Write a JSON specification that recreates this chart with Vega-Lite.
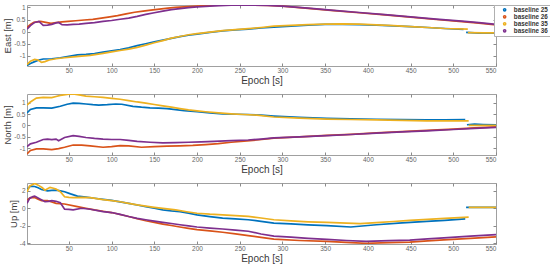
{
"$schema": "https://vega.github.io/schema/vega-lite/v6.json",
"padding": {"left": 2, "top": 3, "right": 0, "bottom": 0},
"spacing": 7,
"config": {
  "font": "Liberation Sans",
  "view": {"stroke": "#a0a0a0", "strokeWidth": 1},
  "axis": {"grid": false, "domain": false, "labelFont": "Liberation Sans", "labelFontSize": 6.5, "labelColor": "#666666", "tickColor": "#8a8a8a", "tickSize": -3, "labelPadding": 4.5, "titleFont": "Liberation Sans", "titleFontWeight": "normal", "titleColor": "#3a3a3a", "titleFontSize": 9.5},
  "axisX": {"titlePadding": 1.5, "titleFontSize": 10},
  "axisY": {"titlePadding": 1, "labelPadding": 5},
  "legend": {"strokeColor": "#b0b0b0", "fillColor": "white", "padding": 1.5, "labelFont": "Liberation Sans", "labelFontSize": 6.3, "labelFontWeight": "bold", "labelColor": "#333333", "symbolType": "circle", "symbolSize": 5, "symbolStrokeWidth": 1.5, "symbolOffset": 6, "rowPadding": 0, "labelOffset": 6, "labelLimit": 200, "clipHeight": 6.6, "title": null}
},
"datasets": {
"east": [
{"baseline":"baseline 25","seg":0,"epoch":1,"value":-1.4},{"baseline":"baseline 25","seg":0,"epoch":5,"value":-1.32},{"baseline":"baseline 25","seg":0,"epoch":10,"value":-1.24},{"baseline":"baseline 25","seg":0,"epoch":15,"value":-1.17},{"baseline":"baseline 25","seg":0,"epoch":20,"value":-1.13},{"baseline":"baseline 25","seg":0,"epoch":30,"value":-1.12},{"baseline":"baseline 25","seg":0,"epoch":40,"value":-1.08},{"baseline":"baseline 25","seg":0,"epoch":50,"value":-1.02},{"baseline":"baseline 25","seg":0,"epoch":60,"value":-0.96},{"baseline":"baseline 25","seg":0,"epoch":70,"value":-0.94},{"baseline":"baseline 25","seg":0,"epoch":80,"value":-0.91},{"baseline":"baseline 25","seg":0,"epoch":90,"value":-0.85},{"baseline":"baseline 25","seg":0,"epoch":100,"value":-0.79},{"baseline":"baseline 25","seg":0,"epoch":110,"value":-0.74},{"baseline":"baseline 25","seg":0,"epoch":120,"value":-0.67},{"baseline":"baseline 25","seg":0,"epoch":130,"value":-0.58},{"baseline":"baseline 25","seg":0,"epoch":140,"value":-0.5},{"baseline":"baseline 25","seg":0,"epoch":150,"value":-0.42},{"baseline":"baseline 25","seg":0,"epoch":160,"value":-0.35},{"baseline":"baseline 25","seg":0,"epoch":170,"value":-0.28},{"baseline":"baseline 25","seg":0,"epoch":180,"value":-0.21},{"baseline":"baseline 25","seg":0,"epoch":190,"value":-0.15},{"baseline":"baseline 25","seg":0,"epoch":200,"value":-0.1},{"baseline":"baseline 25","seg":0,"epoch":215,"value":-0.03},{"baseline":"baseline 25","seg":0,"epoch":230,"value":0.03},{"baseline":"baseline 25","seg":0,"epoch":245,"value":0.07},{"baseline":"baseline 25","seg":0,"epoch":260,"value":0.1},{"baseline":"baseline 25","seg":0,"epoch":275,"value":0.15},{"baseline":"baseline 25","seg":0,"epoch":290,"value":0.19},{"baseline":"baseline 25","seg":0,"epoch":310,"value":0.23},{"baseline":"baseline 25","seg":0,"epoch":330,"value":0.27},{"baseline":"baseline 25","seg":0,"epoch":350,"value":0.3},{"baseline":"baseline 25","seg":0,"epoch":370,"value":0.3},{"baseline":"baseline 25","seg":0,"epoch":390,"value":0.29},{"baseline":"baseline 25","seg":0,"epoch":410,"value":0.27},{"baseline":"baseline 25","seg":0,"epoch":430,"value":0.24},{"baseline":"baseline 25","seg":0,"epoch":450,"value":0.21},{"baseline":"baseline 25","seg":0,"epoch":470,"value":0.17},{"baseline":"baseline 25","seg":0,"epoch":490,"value":0.13},{"baseline":"baseline 25","seg":0,"epoch":512,"value":0.09},
{"baseline":"baseline 25","seg":1,"epoch":515,"value":-0.03},{"baseline":"baseline 25","seg":1,"epoch":530,"value":-0.06},{"baseline":"baseline 25","seg":1,"epoch":550,"value":-0.06},
{"baseline":"baseline 26","seg":0,"epoch":1,"value":0.17},{"baseline":"baseline 26","seg":0,"epoch":5,"value":0.3},{"baseline":"baseline 26","seg":0,"epoch":9,"value":0.38},{"baseline":"baseline 26","seg":0,"epoch":17,"value":0.42},{"baseline":"baseline 26","seg":0,"epoch":23,"value":0.38},{"baseline":"baseline 26","seg":0,"epoch":29,"value":0.34},{"baseline":"baseline 26","seg":0,"epoch":35,"value":0.37},{"baseline":"baseline 26","seg":0,"epoch":42,"value":0.4},{"baseline":"baseline 26","seg":0,"epoch":49,"value":0.42},{"baseline":"baseline 26","seg":0,"epoch":58,"value":0.45},{"baseline":"baseline 26","seg":0,"epoch":68,"value":0.48},{"baseline":"baseline 26","seg":0,"epoch":78,"value":0.51},{"baseline":"baseline 26","seg":0,"epoch":88,"value":0.56},{"baseline":"baseline 26","seg":0,"epoch":98,"value":0.61},{"baseline":"baseline 26","seg":0,"epoch":107,"value":0.66},{"baseline":"baseline 26","seg":0,"epoch":117,"value":0.73},{"baseline":"baseline 26","seg":0,"epoch":127,"value":0.8},{"baseline":"baseline 26","seg":0,"epoch":137,"value":0.85},{"baseline":"baseline 26","seg":0,"epoch":146,"value":0.89},{"baseline":"baseline 26","seg":0,"epoch":156,"value":0.93},{"baseline":"baseline 26","seg":0,"epoch":166,"value":0.97},{"baseline":"baseline 26","seg":0,"epoch":175,"value":1.0},{"baseline":"baseline 26","seg":0,"epoch":185,"value":1.02},{"baseline":"baseline 26","seg":0,"epoch":195,"value":1.04},{"baseline":"baseline 26","seg":0,"epoch":205,"value":1.06},{"baseline":"baseline 26","seg":0,"epoch":225,"value":1.09},{"baseline":"baseline 26","seg":0,"epoch":244,"value":1.11},{"baseline":"baseline 26","seg":0,"epoch":265,"value":1.1},{"baseline":"baseline 26","seg":0,"epoch":283,"value":1.08},{"baseline":"baseline 26","seg":0,"epoch":300,"value":1.05},{"baseline":"baseline 26","seg":0,"epoch":330,"value":0.96},{"baseline":"baseline 26","seg":0,"epoch":360,"value":0.87},{"baseline":"baseline 26","seg":0,"epoch":390,"value":0.78},{"baseline":"baseline 26","seg":0,"epoch":420,"value":0.69},{"baseline":"baseline 26","seg":0,"epoch":450,"value":0.6},{"baseline":"baseline 26","seg":0,"epoch":480,"value":0.5},{"baseline":"baseline 26","seg":0,"epoch":510,"value":0.41},{"baseline":"baseline 26","seg":0,"epoch":530,"value":0.35},{"baseline":"baseline 26","seg":0,"epoch":550,"value":0.28},
{"baseline":"baseline 35","seg":0,"epoch":1,"value":-1.36},{"baseline":"baseline 35","seg":0,"epoch":5,"value":-1.22},{"baseline":"baseline 35","seg":0,"epoch":10,"value":-1.15},{"baseline":"baseline 35","seg":0,"epoch":14,"value":-1.17},{"baseline":"baseline 35","seg":0,"epoch":18,"value":-1.27},{"baseline":"baseline 35","seg":0,"epoch":22,"value":-1.24},{"baseline":"baseline 35","seg":0,"epoch":27,"value":-1.17},{"baseline":"baseline 35","seg":0,"epoch":35,"value":-1.12},{"baseline":"baseline 35","seg":0,"epoch":45,"value":-1.08},{"baseline":"baseline 35","seg":0,"epoch":55,"value":-1.04},{"baseline":"baseline 35","seg":0,"epoch":65,"value":-1.01},{"baseline":"baseline 35","seg":0,"epoch":75,"value":-0.98},{"baseline":"baseline 35","seg":0,"epoch":90,"value":-0.9},{"baseline":"baseline 35","seg":0,"epoch":100,"value":-0.84},{"baseline":"baseline 35","seg":0,"epoch":110,"value":-0.78},{"baseline":"baseline 35","seg":0,"epoch":120,"value":-0.72},{"baseline":"baseline 35","seg":0,"epoch":130,"value":-0.65},{"baseline":"baseline 35","seg":0,"epoch":140,"value":-0.56},{"baseline":"baseline 35","seg":0,"epoch":150,"value":-0.46},{"baseline":"baseline 35","seg":0,"epoch":160,"value":-0.37},{"baseline":"baseline 35","seg":0,"epoch":170,"value":-0.27},{"baseline":"baseline 35","seg":0,"epoch":180,"value":-0.2},{"baseline":"baseline 35","seg":0,"epoch":190,"value":-0.13},{"baseline":"baseline 35","seg":0,"epoch":200,"value":-0.08},{"baseline":"baseline 35","seg":0,"epoch":215,"value":-0.02},{"baseline":"baseline 35","seg":0,"epoch":230,"value":0.04},{"baseline":"baseline 35","seg":0,"epoch":245,"value":0.08},{"baseline":"baseline 35","seg":0,"epoch":260,"value":0.12},{"baseline":"baseline 35","seg":0,"epoch":275,"value":0.17},{"baseline":"baseline 35","seg":0,"epoch":290,"value":0.23},{"baseline":"baseline 35","seg":0,"epoch":310,"value":0.26},{"baseline":"baseline 35","seg":0,"epoch":330,"value":0.29},{"baseline":"baseline 35","seg":0,"epoch":350,"value":0.31},{"baseline":"baseline 35","seg":0,"epoch":370,"value":0.32},{"baseline":"baseline 35","seg":0,"epoch":390,"value":0.31},{"baseline":"baseline 35","seg":0,"epoch":410,"value":0.28},{"baseline":"baseline 35","seg":0,"epoch":430,"value":0.25},{"baseline":"baseline 35","seg":0,"epoch":450,"value":0.21},{"baseline":"baseline 35","seg":0,"epoch":470,"value":0.17},{"baseline":"baseline 35","seg":0,"epoch":490,"value":0.13},{"baseline":"baseline 35","seg":0,"epoch":517,"value":0.1},
{"baseline":"baseline 35","seg":1,"epoch":517,"value":-0.04},{"baseline":"baseline 35","seg":1,"epoch":535,"value":-0.05},{"baseline":"baseline 35","seg":1,"epoch":550,"value":-0.05},
{"baseline":"baseline 36","seg":0,"epoch":1,"value":0.1},{"baseline":"baseline 36","seg":0,"epoch":5,"value":0.25},{"baseline":"baseline 36","seg":0,"epoch":10,"value":0.38},{"baseline":"baseline 36","seg":0,"epoch":15,"value":0.42},{"baseline":"baseline 36","seg":0,"epoch":20,"value":0.26},{"baseline":"baseline 36","seg":0,"epoch":25,"value":0.27},{"baseline":"baseline 36","seg":0,"epoch":30,"value":0.3},{"baseline":"baseline 36","seg":0,"epoch":35,"value":0.36},{"baseline":"baseline 36","seg":0,"epoch":38,"value":0.38},{"baseline":"baseline 36","seg":0,"epoch":42,"value":0.29},{"baseline":"baseline 36","seg":0,"epoch":48,"value":0.28},{"baseline":"baseline 36","seg":0,"epoch":55,"value":0.3},{"baseline":"baseline 36","seg":0,"epoch":62,"value":0.31},{"baseline":"baseline 36","seg":0,"epoch":70,"value":0.34},{"baseline":"baseline 36","seg":0,"epoch":80,"value":0.37},{"baseline":"baseline 36","seg":0,"epoch":90,"value":0.42},{"baseline":"baseline 36","seg":0,"epoch":100,"value":0.46},{"baseline":"baseline 36","seg":0,"epoch":110,"value":0.51},{"baseline":"baseline 36","seg":0,"epoch":120,"value":0.56},{"baseline":"baseline 36","seg":0,"epoch":130,"value":0.63},{"baseline":"baseline 36","seg":0,"epoch":140,"value":0.71},{"baseline":"baseline 36","seg":0,"epoch":150,"value":0.78},{"baseline":"baseline 36","seg":0,"epoch":160,"value":0.85},{"baseline":"baseline 36","seg":0,"epoch":170,"value":0.91},{"baseline":"baseline 36","seg":0,"epoch":180,"value":0.95},{"baseline":"baseline 36","seg":0,"epoch":190,"value":0.99},{"baseline":"baseline 36","seg":0,"epoch":200,"value":1.02},{"baseline":"baseline 36","seg":0,"epoch":220,"value":1.06},{"baseline":"baseline 36","seg":0,"epoch":240,"value":1.09},{"baseline":"baseline 36","seg":0,"epoch":260,"value":1.1},{"baseline":"baseline 36","seg":0,"epoch":283,"value":1.08},{"baseline":"baseline 36","seg":0,"epoch":300,"value":1.05},{"baseline":"baseline 36","seg":0,"epoch":330,"value":0.97},{"baseline":"baseline 36","seg":0,"epoch":360,"value":0.88},{"baseline":"baseline 36","seg":0,"epoch":390,"value":0.79},{"baseline":"baseline 36","seg":0,"epoch":420,"value":0.7},{"baseline":"baseline 36","seg":0,"epoch":450,"value":0.61},{"baseline":"baseline 36","seg":0,"epoch":480,"value":0.52},{"baseline":"baseline 36","seg":0,"epoch":510,"value":0.43},{"baseline":"baseline 36","seg":0,"epoch":530,"value":0.37},{"baseline":"baseline 36","seg":0,"epoch":550,"value":0.3}
],
"north": [
{"baseline":"baseline 25","seg":0,"epoch":1,"value":0.55},{"baseline":"baseline 25","seg":0,"epoch":5,"value":0.7},{"baseline":"baseline 25","seg":0,"epoch":12,"value":0.77},{"baseline":"baseline 25","seg":0,"epoch":20,"value":0.77},{"baseline":"baseline 25","seg":0,"epoch":30,"value":0.76},{"baseline":"baseline 25","seg":0,"epoch":40,"value":0.84},{"baseline":"baseline 25","seg":0,"epoch":48,"value":0.93},{"baseline":"baseline 25","seg":0,"epoch":55,"value":0.98},{"baseline":"baseline 25","seg":0,"epoch":62,"value":0.97},{"baseline":"baseline 25","seg":0,"epoch":70,"value":0.94},{"baseline":"baseline 25","seg":0,"epoch":78,"value":0.91},{"baseline":"baseline 25","seg":0,"epoch":85,"value":0.89},{"baseline":"baseline 25","seg":0,"epoch":95,"value":0.91},{"baseline":"baseline 25","seg":0,"epoch":105,"value":0.94},{"baseline":"baseline 25","seg":0,"epoch":112,"value":0.93},{"baseline":"baseline 25","seg":0,"epoch":125,"value":0.84},{"baseline":"baseline 25","seg":0,"epoch":135,"value":0.8},{"baseline":"baseline 25","seg":0,"epoch":145,"value":0.77},{"baseline":"baseline 25","seg":0,"epoch":155,"value":0.76},{"baseline":"baseline 25","seg":0,"epoch":165,"value":0.74},{"baseline":"baseline 25","seg":0,"epoch":175,"value":0.69},{"baseline":"baseline 25","seg":0,"epoch":185,"value":0.65},{"baseline":"baseline 25","seg":0,"epoch":200,"value":0.6},{"baseline":"baseline 25","seg":0,"epoch":215,"value":0.55},{"baseline":"baseline 25","seg":0,"epoch":230,"value":0.51},{"baseline":"baseline 25","seg":0,"epoch":245,"value":0.49},{"baseline":"baseline 25","seg":0,"epoch":260,"value":0.48},{"baseline":"baseline 25","seg":0,"epoch":275,"value":0.45},{"baseline":"baseline 25","seg":0,"epoch":290,"value":0.41},{"baseline":"baseline 25","seg":0,"epoch":320,"value":0.35},{"baseline":"baseline 25","seg":0,"epoch":352,"value":0.31},{"baseline":"baseline 25","seg":0,"epoch":380,"value":0.29},{"baseline":"baseline 25","seg":0,"epoch":410,"value":0.27},{"baseline":"baseline 25","seg":0,"epoch":440,"value":0.25},{"baseline":"baseline 25","seg":0,"epoch":469,"value":0.24},{"baseline":"baseline 25","seg":0,"epoch":490,"value":0.24},{"baseline":"baseline 25","seg":0,"epoch":514,"value":0.25},
{"baseline":"baseline 25","seg":1,"epoch":516,"value":0.03},{"baseline":"baseline 25","seg":1,"epoch":525,"value":0.06},{"baseline":"baseline 25","seg":1,"epoch":535,"value":0.04},{"baseline":"baseline 25","seg":1,"epoch":550,"value":0.02},
{"baseline":"baseline 26","seg":0,"epoch":1,"value":-1.25},{"baseline":"baseline 26","seg":0,"epoch":5,"value":-1.1},{"baseline":"baseline 26","seg":0,"epoch":12,"value":-1.03},{"baseline":"baseline 26","seg":0,"epoch":20,"value":-1.03},{"baseline":"baseline 26","seg":0,"epoch":30,"value":-1.06},{"baseline":"baseline 26","seg":0,"epoch":38,"value":-1.02},{"baseline":"baseline 26","seg":0,"epoch":45,"value":-0.96},{"baseline":"baseline 26","seg":0,"epoch":55,"value":-0.86},{"baseline":"baseline 26","seg":0,"epoch":65,"value":-0.87},{"baseline":"baseline 26","seg":0,"epoch":75,"value":-0.9},{"baseline":"baseline 26","seg":0,"epoch":90,"value":-0.96},{"baseline":"baseline 26","seg":0,"epoch":100,"value":-0.93},{"baseline":"baseline 26","seg":0,"epoch":110,"value":-0.89},{"baseline":"baseline 26","seg":0,"epoch":120,"value":-0.9},{"baseline":"baseline 26","seg":0,"epoch":135,"value":-0.96},{"baseline":"baseline 26","seg":0,"epoch":150,"value":-0.93},{"baseline":"baseline 26","seg":0,"epoch":165,"value":-0.91},{"baseline":"baseline 26","seg":0,"epoch":180,"value":-0.9},{"baseline":"baseline 26","seg":0,"epoch":195,"value":-0.88},{"baseline":"baseline 26","seg":0,"epoch":210,"value":-0.84},{"baseline":"baseline 26","seg":0,"epoch":225,"value":-0.8},{"baseline":"baseline 26","seg":0,"epoch":240,"value":-0.74},{"baseline":"baseline 26","seg":0,"epoch":255,"value":-0.69},{"baseline":"baseline 26","seg":0,"epoch":270,"value":-0.64},{"baseline":"baseline 26","seg":0,"epoch":290,"value":-0.56},{"baseline":"baseline 26","seg":0,"epoch":320,"value":-0.5},{"baseline":"baseline 26","seg":0,"epoch":352,"value":-0.44},{"baseline":"baseline 26","seg":0,"epoch":380,"value":-0.39},{"baseline":"baseline 26","seg":0,"epoch":410,"value":-0.33},{"baseline":"baseline 26","seg":0,"epoch":440,"value":-0.27},{"baseline":"baseline 26","seg":0,"epoch":469,"value":-0.22},{"baseline":"baseline 26","seg":0,"epoch":500,"value":-0.16},{"baseline":"baseline 26","seg":0,"epoch":525,"value":-0.11},{"baseline":"baseline 26","seg":0,"epoch":550,"value":-0.06},
{"baseline":"baseline 35","seg":0,"epoch":1,"value":0.89},{"baseline":"baseline 35","seg":0,"epoch":5,"value":1.03},{"baseline":"baseline 35","seg":0,"epoch":12,"value":1.2},{"baseline":"baseline 35","seg":0,"epoch":20,"value":1.23},{"baseline":"baseline 35","seg":0,"epoch":30,"value":1.22},{"baseline":"baseline 35","seg":0,"epoch":35,"value":1.27},{"baseline":"baseline 35","seg":0,"epoch":40,"value":1.32},{"baseline":"baseline 35","seg":0,"epoch":50,"value":1.37},{"baseline":"baseline 35","seg":0,"epoch":55,"value":1.38},{"baseline":"baseline 35","seg":0,"epoch":62,"value":1.34},{"baseline":"baseline 35","seg":0,"epoch":70,"value":1.29},{"baseline":"baseline 35","seg":0,"epoch":80,"value":1.26},{"baseline":"baseline 35","seg":0,"epoch":90,"value":1.23},{"baseline":"baseline 35","seg":0,"epoch":100,"value":1.19},{"baseline":"baseline 35","seg":0,"epoch":110,"value":1.15},{"baseline":"baseline 35","seg":0,"epoch":120,"value":1.09},{"baseline":"baseline 35","seg":0,"epoch":130,"value":1.03},{"baseline":"baseline 35","seg":0,"epoch":140,"value":0.98},{"baseline":"baseline 35","seg":0,"epoch":150,"value":0.92},{"baseline":"baseline 35","seg":0,"epoch":160,"value":0.86},{"baseline":"baseline 35","seg":0,"epoch":170,"value":0.8},{"baseline":"baseline 35","seg":0,"epoch":180,"value":0.74},{"baseline":"baseline 35","seg":0,"epoch":190,"value":0.68},{"baseline":"baseline 35","seg":0,"epoch":200,"value":0.64},{"baseline":"baseline 35","seg":0,"epoch":210,"value":0.6},{"baseline":"baseline 35","seg":0,"epoch":225,"value":0.55},{"baseline":"baseline 35","seg":0,"epoch":240,"value":0.51},{"baseline":"baseline 35","seg":0,"epoch":255,"value":0.48},{"baseline":"baseline 35","seg":0,"epoch":270,"value":0.45},{"baseline":"baseline 35","seg":0,"epoch":290,"value":0.37},{"baseline":"baseline 35","seg":0,"epoch":320,"value":0.32},{"baseline":"baseline 35","seg":0,"epoch":352,"value":0.28},{"baseline":"baseline 35","seg":0,"epoch":380,"value":0.26},{"baseline":"baseline 35","seg":0,"epoch":410,"value":0.24},{"baseline":"baseline 35","seg":0,"epoch":440,"value":0.22},{"baseline":"baseline 35","seg":0,"epoch":469,"value":0.2},{"baseline":"baseline 35","seg":0,"epoch":490,"value":0.2},{"baseline":"baseline 35","seg":0,"epoch":518,"value":0.2},
{"baseline":"baseline 35","seg":1,"epoch":518,"value":0.0},{"baseline":"baseline 35","seg":1,"epoch":535,"value":0.0},{"baseline":"baseline 35","seg":1,"epoch":550,"value":0.0},
{"baseline":"baseline 36","seg":0,"epoch":1,"value":-0.93},{"baseline":"baseline 36","seg":0,"epoch":5,"value":-0.81},{"baseline":"baseline 36","seg":0,"epoch":12,"value":-0.74},{"baseline":"baseline 36","seg":0,"epoch":20,"value":-0.62},{"baseline":"baseline 36","seg":0,"epoch":25,"value":-0.6},{"baseline":"baseline 36","seg":0,"epoch":30,"value":-0.62},{"baseline":"baseline 36","seg":0,"epoch":35,"value":-0.6},{"baseline":"baseline 36","seg":0,"epoch":38,"value":-0.67},{"baseline":"baseline 36","seg":0,"epoch":45,"value":-0.53},{"baseline":"baseline 36","seg":0,"epoch":55,"value":-0.45},{"baseline":"baseline 36","seg":0,"epoch":62,"value":-0.48},{"baseline":"baseline 36","seg":0,"epoch":70,"value":-0.53},{"baseline":"baseline 36","seg":0,"epoch":80,"value":-0.57},{"baseline":"baseline 36","seg":0,"epoch":90,"value":-0.6},{"baseline":"baseline 36","seg":0,"epoch":100,"value":-0.62},{"baseline":"baseline 36","seg":0,"epoch":110,"value":-0.62},{"baseline":"baseline 36","seg":0,"epoch":120,"value":-0.66},{"baseline":"baseline 36","seg":0,"epoch":130,"value":-0.7},{"baseline":"baseline 36","seg":0,"epoch":145,"value":-0.74},{"baseline":"baseline 36","seg":0,"epoch":160,"value":-0.77},{"baseline":"baseline 36","seg":0,"epoch":175,"value":-0.76},{"baseline":"baseline 36","seg":0,"epoch":190,"value":-0.74},{"baseline":"baseline 36","seg":0,"epoch":205,"value":-0.72},{"baseline":"baseline 36","seg":0,"epoch":220,"value":-0.7},{"baseline":"baseline 36","seg":0,"epoch":240,"value":-0.67},{"baseline":"baseline 36","seg":0,"epoch":260,"value":-0.64},{"baseline":"baseline 36","seg":0,"epoch":275,"value":-0.6},{"baseline":"baseline 36","seg":0,"epoch":290,"value":-0.55},{"baseline":"baseline 36","seg":0,"epoch":320,"value":-0.5},{"baseline":"baseline 36","seg":0,"epoch":352,"value":-0.45},{"baseline":"baseline 36","seg":0,"epoch":380,"value":-0.4},{"baseline":"baseline 36","seg":0,"epoch":410,"value":-0.34},{"baseline":"baseline 36","seg":0,"epoch":440,"value":-0.28},{"baseline":"baseline 36","seg":0,"epoch":469,"value":-0.24},{"baseline":"baseline 36","seg":0,"epoch":500,"value":-0.18},{"baseline":"baseline 36","seg":0,"epoch":525,"value":-0.13},{"baseline":"baseline 36","seg":0,"epoch":550,"value":-0.09}
],
"up": [
{"baseline":"baseline 25","seg":0,"epoch":1,"value":2.15},{"baseline":"baseline 25","seg":0,"epoch":5,"value":2.53},{"baseline":"baseline 25","seg":0,"epoch":10,"value":2.5},{"baseline":"baseline 25","seg":0,"epoch":14,"value":2.35},{"baseline":"baseline 25","seg":0,"epoch":18,"value":2.15},{"baseline":"baseline 25","seg":0,"epoch":25,"value":2.0},{"baseline":"baseline 25","seg":0,"epoch":30,"value":2.05},{"baseline":"baseline 25","seg":0,"epoch":35,"value":2.08},{"baseline":"baseline 25","seg":0,"epoch":40,"value":2.0},{"baseline":"baseline 25","seg":0,"epoch":45,"value":1.9},{"baseline":"baseline 25","seg":0,"epoch":52,"value":1.65},{"baseline":"baseline 25","seg":0,"epoch":60,"value":1.4},{"baseline":"baseline 25","seg":0,"epoch":70,"value":1.28},{"baseline":"baseline 25","seg":0,"epoch":80,"value":1.15},{"baseline":"baseline 25","seg":0,"epoch":90,"value":1.03},{"baseline":"baseline 25","seg":0,"epoch":100,"value":0.9},{"baseline":"baseline 25","seg":0,"epoch":110,"value":0.74},{"baseline":"baseline 25","seg":0,"epoch":120,"value":0.57},{"baseline":"baseline 25","seg":0,"epoch":130,"value":0.38},{"baseline":"baseline 25","seg":0,"epoch":140,"value":0.19},{"baseline":"baseline 25","seg":0,"epoch":150,"value":0.0},{"baseline":"baseline 25","seg":0,"epoch":160,"value":-0.19},{"baseline":"baseline 25","seg":0,"epoch":170,"value":-0.3},{"baseline":"baseline 25","seg":0,"epoch":180,"value":-0.38},{"baseline":"baseline 25","seg":0,"epoch":190,"value":-0.55},{"baseline":"baseline 25","seg":0,"epoch":200,"value":-0.75},{"baseline":"baseline 25","seg":0,"epoch":215,"value":-0.95},{"baseline":"baseline 25","seg":0,"epoch":230,"value":-1.13},{"baseline":"baseline 25","seg":0,"epoch":245,"value":-1.22},{"baseline":"baseline 25","seg":0,"epoch":260,"value":-1.32},{"baseline":"baseline 25","seg":0,"epoch":275,"value":-1.5},{"baseline":"baseline 25","seg":0,"epoch":290,"value":-1.7},{"baseline":"baseline 25","seg":0,"epoch":310,"value":-1.8},{"baseline":"baseline 25","seg":0,"epoch":330,"value":-1.9},{"baseline":"baseline 25","seg":0,"epoch":352,"value":-2.0},{"baseline":"baseline 25","seg":0,"epoch":380,"value":-2.15},{"baseline":"baseline 25","seg":0,"epoch":410,"value":-1.89},{"baseline":"baseline 25","seg":0,"epoch":440,"value":-1.68},{"baseline":"baseline 25","seg":0,"epoch":469,"value":-1.51},{"baseline":"baseline 25","seg":0,"epoch":490,"value":-1.38},{"baseline":"baseline 25","seg":0,"epoch":514,"value":-1.21},
{"baseline":"baseline 25","seg":1,"epoch":515,"value":0.11},{"baseline":"baseline 25","seg":1,"epoch":530,"value":0.1},{"baseline":"baseline 25","seg":1,"epoch":550,"value":0.1},
{"baseline":"baseline 26","seg":0,"epoch":1,"value":0.94},{"baseline":"baseline 26","seg":0,"epoch":5,"value":1.23},{"baseline":"baseline 26","seg":0,"epoch":10,"value":1.23},{"baseline":"baseline 26","seg":0,"epoch":14,"value":1.05},{"baseline":"baseline 26","seg":0,"epoch":18,"value":0.87},{"baseline":"baseline 26","seg":0,"epoch":25,"value":0.87},{"baseline":"baseline 26","seg":0,"epoch":30,"value":0.72},{"baseline":"baseline 26","seg":0,"epoch":35,"value":0.57},{"baseline":"baseline 26","seg":0,"epoch":45,"value":0.49},{"baseline":"baseline 26","seg":0,"epoch":60,"value":0.19},{"baseline":"baseline 26","seg":0,"epoch":70,"value":0.0},{"baseline":"baseline 26","seg":0,"epoch":80,"value":-0.19},{"baseline":"baseline 26","seg":0,"epoch":90,"value":-0.34},{"baseline":"baseline 26","seg":0,"epoch":100,"value":-0.49},{"baseline":"baseline 26","seg":0,"epoch":110,"value":-0.72},{"baseline":"baseline 26","seg":0,"epoch":120,"value":-0.94},{"baseline":"baseline 26","seg":0,"epoch":130,"value":-1.2},{"baseline":"baseline 26","seg":0,"epoch":140,"value":-1.43},{"baseline":"baseline 26","seg":0,"epoch":150,"value":-1.62},{"baseline":"baseline 26","seg":0,"epoch":160,"value":-1.81},{"baseline":"baseline 26","seg":0,"epoch":170,"value":-1.98},{"baseline":"baseline 26","seg":0,"epoch":180,"value":-2.15},{"baseline":"baseline 26","seg":0,"epoch":190,"value":-2.3},{"baseline":"baseline 26","seg":0,"epoch":200,"value":-2.45},{"baseline":"baseline 26","seg":0,"epoch":215,"value":-2.6},{"baseline":"baseline 26","seg":0,"epoch":230,"value":-2.75},{"baseline":"baseline 26","seg":0,"epoch":245,"value":-2.94},{"baseline":"baseline 26","seg":0,"epoch":260,"value":-3.13},{"baseline":"baseline 26","seg":0,"epoch":275,"value":-3.35},{"baseline":"baseline 26","seg":0,"epoch":290,"value":-3.55},{"baseline":"baseline 26","seg":0,"epoch":320,"value":-3.7},{"baseline":"baseline 26","seg":0,"epoch":352,"value":-3.81},{"baseline":"baseline 26","seg":0,"epoch":380,"value":-3.95},{"baseline":"baseline 26","seg":0,"epoch":398,"value":-4.02},{"baseline":"baseline 26","seg":0,"epoch":425,"value":-3.95},{"baseline":"baseline 26","seg":0,"epoch":449,"value":-3.89},{"baseline":"baseline 26","seg":0,"epoch":470,"value":-3.75},{"baseline":"baseline 26","seg":0,"epoch":489,"value":-3.62},{"baseline":"baseline 26","seg":0,"epoch":520,"value":-3.45},{"baseline":"baseline 26","seg":0,"epoch":550,"value":-3.28},
{"baseline":"baseline 35","seg":0,"epoch":1,"value":1.89},{"baseline":"baseline 35","seg":0,"epoch":4,"value":2.53},{"baseline":"baseline 35","seg":0,"epoch":10,"value":2.85},{"baseline":"baseline 35","seg":0,"epoch":15,"value":2.6},{"baseline":"baseline 35","seg":0,"epoch":19,"value":2.35},{"baseline":"baseline 35","seg":0,"epoch":22,"value":2.08},{"baseline":"baseline 35","seg":0,"epoch":25,"value":2.25},{"baseline":"baseline 35","seg":0,"epoch":28,"value":2.4},{"baseline":"baseline 35","seg":0,"epoch":32,"value":2.3},{"baseline":"baseline 35","seg":0,"epoch":35,"value":2.2},{"baseline":"baseline 35","seg":0,"epoch":40,"value":1.9},{"baseline":"baseline 35","seg":0,"epoch":45,"value":1.32},{"baseline":"baseline 35","seg":0,"epoch":50,"value":1.25},{"baseline":"baseline 35","seg":0,"epoch":55,"value":1.23},{"baseline":"baseline 35","seg":0,"epoch":65,"value":1.25},{"baseline":"baseline 35","seg":0,"epoch":75,"value":1.23},{"baseline":"baseline 35","seg":0,"epoch":90,"value":1.0},{"baseline":"baseline 35","seg":0,"epoch":100,"value":0.88},{"baseline":"baseline 35","seg":0,"epoch":110,"value":0.75},{"baseline":"baseline 35","seg":0,"epoch":120,"value":0.56},{"baseline":"baseline 35","seg":0,"epoch":130,"value":0.38},{"baseline":"baseline 35","seg":0,"epoch":140,"value":0.25},{"baseline":"baseline 35","seg":0,"epoch":150,"value":0.11},{"baseline":"baseline 35","seg":0,"epoch":160,"value":-0.01},{"baseline":"baseline 35","seg":0,"epoch":175,"value":-0.19},{"baseline":"baseline 35","seg":0,"epoch":188,"value":-0.4},{"baseline":"baseline 35","seg":0,"epoch":200,"value":-0.57},{"baseline":"baseline 35","seg":0,"epoch":215,"value":-0.68},{"baseline":"baseline 35","seg":0,"epoch":230,"value":-0.75},{"baseline":"baseline 35","seg":0,"epoch":245,"value":-0.85},{"baseline":"baseline 35","seg":0,"epoch":260,"value":-0.94},{"baseline":"baseline 35","seg":0,"epoch":275,"value":-1.12},{"baseline":"baseline 35","seg":0,"epoch":290,"value":-1.32},{"baseline":"baseline 35","seg":0,"epoch":310,"value":-1.45},{"baseline":"baseline 35","seg":0,"epoch":330,"value":-1.55},{"baseline":"baseline 35","seg":0,"epoch":352,"value":-1.62},{"baseline":"baseline 35","seg":0,"epoch":375,"value":-1.7},{"baseline":"baseline 35","seg":0,"epoch":391,"value":-1.77},{"baseline":"baseline 35","seg":0,"epoch":410,"value":-1.65},{"baseline":"baseline 35","seg":0,"epoch":430,"value":-1.52},{"baseline":"baseline 35","seg":0,"epoch":449,"value":-1.4},{"baseline":"baseline 35","seg":0,"epoch":470,"value":-1.28},{"baseline":"baseline 35","seg":0,"epoch":490,"value":-1.16},{"baseline":"baseline 35","seg":0,"epoch":518,"value":-1.02},
{"baseline":"baseline 35","seg":1,"epoch":518,"value":0.11},{"baseline":"baseline 35","seg":1,"epoch":535,"value":0.1},{"baseline":"baseline 35","seg":1,"epoch":550,"value":0.11},
{"baseline":"baseline 36","seg":0,"epoch":1,"value":0.57},{"baseline":"baseline 36","seg":0,"epoch":4,"value":1.13},{"baseline":"baseline 36","seg":0,"epoch":8,"value":1.35},{"baseline":"baseline 36","seg":0,"epoch":10,"value":1.4},{"baseline":"baseline 36","seg":0,"epoch":15,"value":1.13},{"baseline":"baseline 36","seg":0,"epoch":22,"value":0.75},{"baseline":"baseline 36","seg":0,"epoch":26,"value":0.8},{"baseline":"baseline 36","seg":0,"epoch":30,"value":0.87},{"baseline":"baseline 36","seg":0,"epoch":35,"value":0.8},{"baseline":"baseline 36","seg":0,"epoch":40,"value":0.64},{"baseline":"baseline 36","seg":0,"epoch":45,"value":-0.11},{"baseline":"baseline 36","seg":0,"epoch":50,"value":-0.12},{"baseline":"baseline 36","seg":0,"epoch":55,"value":-0.19},{"baseline":"baseline 36","seg":0,"epoch":65,"value":0.0},{"baseline":"baseline 36","seg":0,"epoch":75,"value":-0.11},{"baseline":"baseline 36","seg":0,"epoch":90,"value":-0.38},{"baseline":"baseline 36","seg":0,"epoch":100,"value":-0.49},{"baseline":"baseline 36","seg":0,"epoch":110,"value":-0.7},{"baseline":"baseline 36","seg":0,"epoch":120,"value":-0.94},{"baseline":"baseline 36","seg":0,"epoch":130,"value":-1.15},{"baseline":"baseline 36","seg":0,"epoch":140,"value":-1.32},{"baseline":"baseline 36","seg":0,"epoch":150,"value":-1.48},{"baseline":"baseline 36","seg":0,"epoch":160,"value":-1.62},{"baseline":"baseline 36","seg":0,"epoch":170,"value":-1.75},{"baseline":"baseline 36","seg":0,"epoch":180,"value":-1.89},{"baseline":"baseline 36","seg":0,"epoch":190,"value":-2.02},{"baseline":"baseline 36","seg":0,"epoch":200,"value":-2.15},{"baseline":"baseline 36","seg":0,"epoch":215,"value":-2.27},{"baseline":"baseline 36","seg":0,"epoch":230,"value":-2.38},{"baseline":"baseline 36","seg":0,"epoch":245,"value":-2.5},{"baseline":"baseline 36","seg":0,"epoch":260,"value":-2.64},{"baseline":"baseline 36","seg":0,"epoch":275,"value":-2.95},{"baseline":"baseline 36","seg":0,"epoch":290,"value":-3.2},{"baseline":"baseline 36","seg":0,"epoch":310,"value":-3.3},{"baseline":"baseline 36","seg":0,"epoch":330,"value":-3.45},{"baseline":"baseline 36","seg":0,"epoch":352,"value":-3.58},{"baseline":"baseline 36","seg":0,"epoch":375,"value":-3.7},{"baseline":"baseline 36","seg":0,"epoch":398,"value":-3.81},{"baseline":"baseline 36","seg":0,"epoch":425,"value":-3.72},{"baseline":"baseline 36","seg":0,"epoch":449,"value":-3.66},{"baseline":"baseline 36","seg":0,"epoch":470,"value":-3.52},{"baseline":"baseline 36","seg":0,"epoch":489,"value":-3.4},{"baseline":"baseline 36","seg":0,"epoch":520,"value":-3.2},{"baseline":"baseline 36","seg":0,"epoch":550,"value":-3.02}
]
},
"vconcat": [
{
 "width": 469, "height": 61,
 "data": {"name": "east"},
 "layer": [
  {
   "mark": {"type": "line", "strokeWidth": 1.7, "clip": true},
   "encoding": {
    "x": {"field": "epoch", "type": "quantitative", "scale": {"domain": [1, 550], "nice": false, "zero": false}, "axis": {"values": [50,100,150,200,250,300,350,400,450,500,550], "title": "Epoch [s]"}},
    "y": {"field": "value", "type": "quantitative", "scale": {"domain": [-1.42, 1.1], "nice": false, "zero": false}, "axis": {"values": [-1,-0.5,0,0.5,1], "title": "East [m]", "labelExpr": "datum.value < 0 ? '-' + format(-datum.value, '~g') : format(datum.value, '~g')"}},
    "color": {"field": "baseline", "type": "nominal", "scale": {"domain": ["baseline 25","baseline 26","baseline 35","baseline 36"], "range": ["#0072BD","#D95319","#EDB120","#7E2F8E"]}, "legend": {"orient": "none", "legendX": 467, "legendY": 0, "symbolSize": 5, "symbolStrokeWidth": 1.5, "clipHeight": 6.6, "rowPadding": 0, "labelOffset": 6, "symbolOffset": 6, "padding": 1.5, "labelFontSize": 6.3}},
    "detail": {"field": "seg"}
   }
  },
  {
   "mark": {"type": "line", "opacity": 0},
   "encoding": {
    "x": {"field": "epoch", "type": "quantitative", "scale": {"domain": [1, 550], "nice": false, "zero": false}, "axis": {"orient": "top", "labels": false, "title": null, "values": [50,100,150,200,250,300,350,400,450,500,550]}},
    "y": {"field": "value", "type": "quantitative", "scale": {"domain": [-1.42, 1.1], "nice": false, "zero": false}, "axis": {"orient": "right", "labels": false, "title": null, "values": [-1,-0.5,0,0.5,1]}},
    "detail": {"field": "baseline"}
   }
  }
 ],
 "resolve": {"axis": {"x": "independent", "y": "independent"}}
},
{
 "width": 469, "height": 61,
 "data": {"name": "north"},
 "layer": [
  {
   "mark": {"type": "line", "strokeWidth": 1.7, "clip": true},
   "encoding": {
    "x": {"field": "epoch", "type": "quantitative", "scale": {"domain": [1, 550], "nice": false, "zero": false}, "axis": {"values": [50,100,150,200,250,300,350,400,450,500,550], "title": "Epoch [s]"}},
    "y": {"field": "value", "type": "quantitative", "scale": {"domain": [-1.3, 1.38], "nice": false, "zero": false}, "axis": {"values": [-1,-0.5,0,0.5,1], "title": "North [m]", "labelExpr": "datum.value < 0 ? '-' + format(-datum.value, '~g') : format(datum.value, '~g')"}},
    "color": {"field": "baseline", "type": "nominal", "scale": {"domain": ["baseline 25","baseline 26","baseline 35","baseline 36"], "range": ["#0072BD","#D95319","#EDB120","#7E2F8E"]}},
    "detail": {"field": "seg"}
   }
  },
  {
   "mark": {"type": "line", "opacity": 0},
   "encoding": {
    "x": {"field": "epoch", "type": "quantitative", "scale": {"domain": [1, 550], "nice": false, "zero": false}, "axis": {"orient": "top", "labels": false, "title": null, "values": [50,100,150,200,250,300,350,400,450,500,550]}},
    "y": {"field": "value", "type": "quantitative", "scale": {"domain": [-1.3, 1.38], "nice": false, "zero": false}, "axis": {"orient": "right", "labels": false, "title": null, "values": [-1,-0.5,0,0.5,1]}},
    "detail": {"field": "baseline"}
   }
  }
 ],
 "resolve": {"axis": {"x": "independent", "y": "independent"}}
},
{
 "width": 469, "height": 61,
 "data": {"name": "up"},
 "layer": [
  {
   "mark": {"type": "line", "strokeWidth": 1.7, "clip": true},
   "encoding": {
    "x": {"field": "epoch", "type": "quantitative", "scale": {"domain": [1, 550], "nice": false, "zero": false}, "axis": {"values": [50,100,150,200,250,300,350,400,450,500,550], "title": "Epoch [s]"}},
    "y": {"field": "value", "type": "quantitative", "scale": {"domain": [-4.1, 2.9], "nice": false, "zero": false}, "axis": {"values": [-4,-2,0,2], "title": "Up [m]", "labelExpr": "datum.value < 0 ? '-' + format(-datum.value, '~g') : format(datum.value, '~g')"}},
    "color": {"field": "baseline", "type": "nominal", "scale": {"domain": ["baseline 25","baseline 26","baseline 35","baseline 36"], "range": ["#0072BD","#D95319","#EDB120","#7E2F8E"]}},
    "detail": {"field": "seg"}
   }
  },
  {
   "mark": {"type": "line", "opacity": 0},
   "encoding": {
    "x": {"field": "epoch", "type": "quantitative", "scale": {"domain": [1, 550], "nice": false, "zero": false}, "axis": {"orient": "top", "labels": false, "title": null, "values": [50,100,150,200,250,300,350,400,450,500,550]}},
    "y": {"field": "value", "type": "quantitative", "scale": {"domain": [-4.1, 2.9], "nice": false, "zero": false}, "axis": {"orient": "right", "labels": false, "title": null, "values": [-4,-2,0,2]}},
    "detail": {"field": "baseline"}
   }
  }
 ],
 "resolve": {"axis": {"x": "independent", "y": "independent"}}
}
]
}
